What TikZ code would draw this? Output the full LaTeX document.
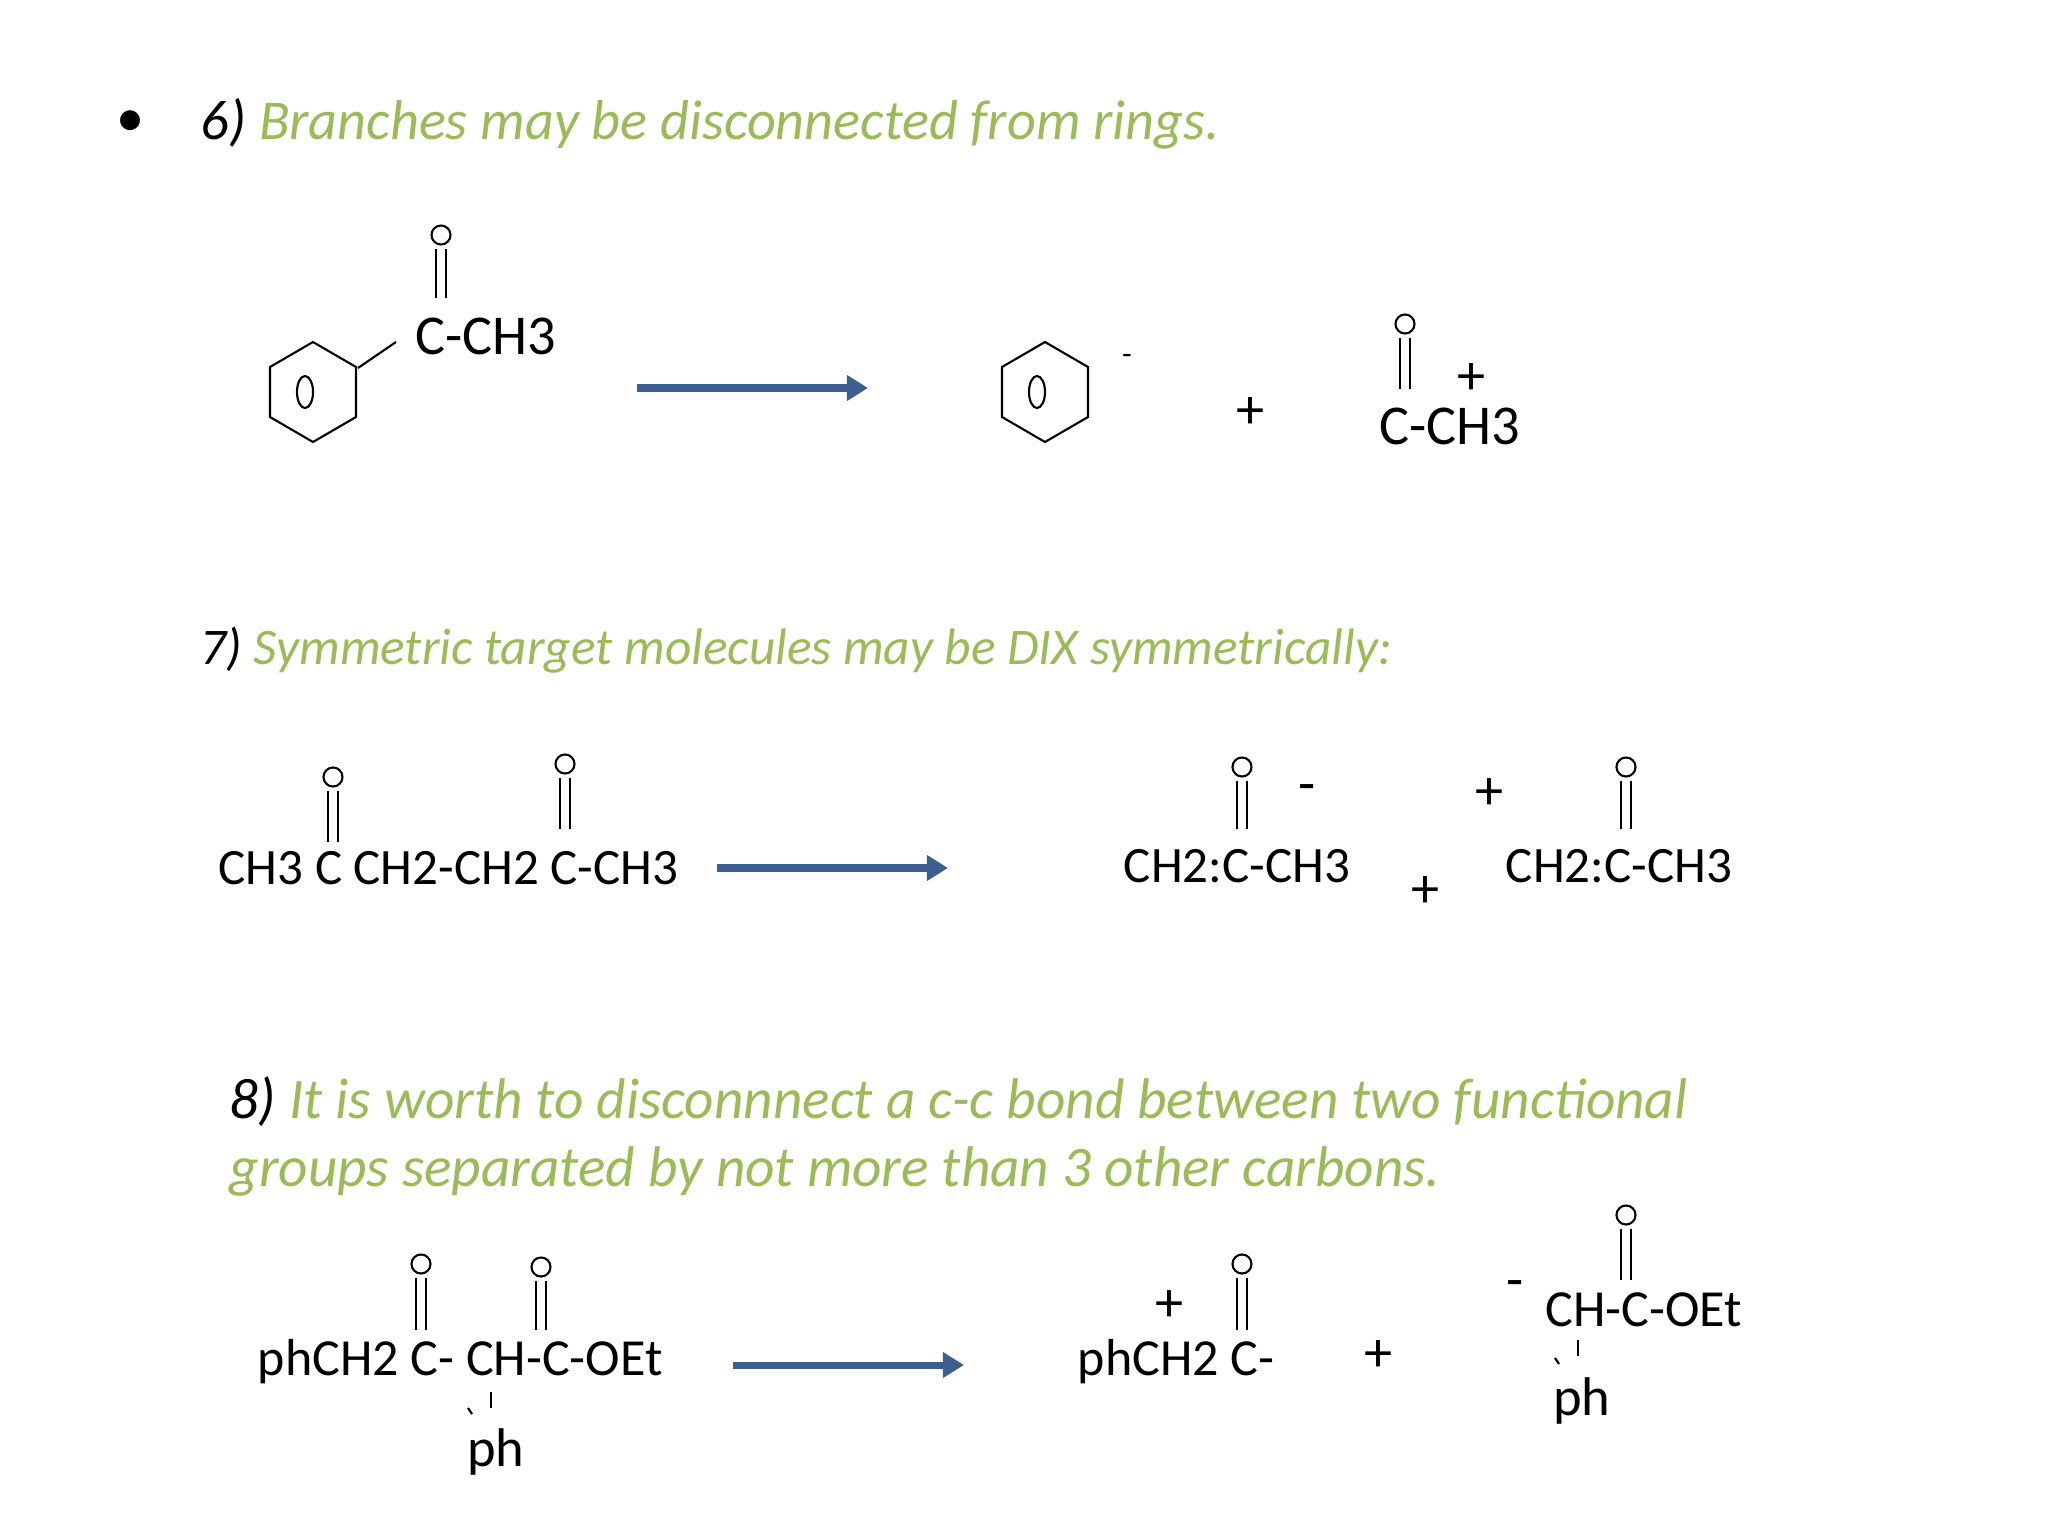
\documentclass[tikz,border=0pt]{standalone}
\usepackage{fontspec}
\setmainfont{Carlito}
\usetikzlibrary{arrows.meta,shapes.geometric}
\definecolor{tgreen}{HTML}{9BBB59}
\definecolor{arr}{HTML}{3C5F8E}
\tikzset{
 chem/.style={inner sep=0pt,font=\fontsize{16}{18}\selectfont},
 chemb/.style={inner sep=0pt,font=\fontsize{14.5}{18}\selectfont},
 ttl/.style={inner sep=0pt,anchor=west,font=\fontsize{16}{19}\selectfont\itshape},
 bond/.style={line width=0.6pt},
 bigarrow/.style={arr,line width=2pt,-{Triangle[length=6pt,width=7pt]}},
}
\newcommand{\oxo}[4]{%
 \node[circle,draw,line width=0.6pt,minimum size=0.19cm,inner sep=0pt] (#4) at (#1,#2) {};
 \draw[bond] (#1-5,#2+14) -- (#1-5,#3);
 \draw[bond] (#1+5,#2+14) -- (#1+5,#3);}
\begin{document}
\begin{tikzpicture}[x=0.01cm,y=-0.01cm]
\useasboundingbox (0,0) rectangle (2048,1536);
\fill[white] (0,0) rectangle (2048,1536);
% title 6
\node[inner sep=0pt,font=\fontsize{16}{19}\selectfont] (b) at (131,124) {•};
\node[ttl] (t6) at (200,124) {6) \textcolor{tgreen}{Branches may be disconnected from rings.}};
% row 1
\draw[bond] (313,342) -- (356,367) -- (356,417) -- (313,442) -- (270,417) -- (270,367) -- cycle;
\node[ellipse,draw,line width=0.6pt,minimum width=0.16cm,minimum height=0.32cm,inner sep=0pt] (r1) at (305,392) {};
\draw[bond] (358,368) -- (396,342);
\node[chem,anchor=west] (c1) at (415,336) {C-CH3};
\oxo{441}{235}{298}{o1}
\draw[bigarrow] (637,388) -- (868,388);
\draw[bond] (1045,342) -- (1088,367) -- (1088,417) -- (1045,442) -- (1002,417) -- (1002,367) -- cycle;
\node[ellipse,draw,line width=0.6pt,minimum width=0.16cm,minimum height=0.32cm,inner sep=0pt] (r2) at (1037,392) {};
\node[inner sep=0pt,font=\fontsize{9}{10}\selectfont] (m1) at (1127,359) {-};
\node[chem] (p1) at (1250,413) {+};
\oxo{1405}{324}{389}{o2}
\node[chem] (p2) at (1471,379) {+};
\node[chem] (c2) at (1450,426) {C-CH3};
% title 7
\node[ttl,font=\fontsize{14.6}{18}\selectfont\itshape] (t7) at (200,650) {7) \textcolor{tgreen}{Symmetric target molecules may be DIX symmetrically:}};
% row 2
\node[chemb,anchor=west] (c3) at (218,868) {CH3 C CH2-CH2 C-CH3};
\oxo{333}{777}{842}{o3}
\oxo{565}{764}{829}{o4}
\draw[bigarrow] (717,868) -- (948,868);
\node[chemb] (c4) at (1237,866) {CH2:C-CH3};
\oxo{1242}{767}{829}{o5}
\node[chem] (m2) at (1307,794) {-};
\node[chem] (p3) at (1489,794) {+};
\node[chem] (p4) at (1425,892) {+};
\node[chemb] (c5) at (1619,866) {CH2:C-CH3};
\oxo{1626}{767}{829}{o6}
% title 8
\node[ttl,font=\fontsize{16.3}{20}\selectfont\itshape] (t8a) at (229,1101) {8) \textcolor{tgreen}{It is worth to disconnnect a c-c bond between two functional}};
\node[ttl,font=\fontsize{16.3}{20}\selectfont\itshape,text=tgreen] (t8b) at (229,1171) {groups separated by not more than 3 other carbons.};
% row 3
\node[chemb,font=\fontsize{14.8}{18}\selectfont,anchor=west] (c6) at (257,1362) {phCH2 C- CH-C-OEt};
\oxo{421}{1264}{1330}{o7}
\oxo{541}{1267}{1330}{o8}
\draw[bond] (491,1392) -- (491,1408);
\draw[bond] (468,1408) -- (472,1414);
\node[chemb,font=\fontsize{15.5}{18}\selectfont] (ph1) at (496,1452) {ph};
\draw[bigarrow] (733,1365) -- (964,1365);
\node[chemb,font=\fontsize{14.8}{18}\selectfont,anchor=west] (c7) at (1077,1362) {phCH2 C-};
\node[chem] (p5) at (1169,1306) {+};
\oxo{1242}{1264}{1330}{o9}
\node[chem] (p6) at (1378,1356) {+};
\node[chem] (m3) at (1515,1290) {-};
\node[chemb,font=\fontsize{14.8}{18}\selectfont,anchor=west] (c8) at (1545,1310) {CH-C-OEt};
\oxo{1626}{1215}{1280}{o10}
\draw[bond] (1578,1340) -- (1578,1356);
\draw[bond] (1555,1358) -- (1559,1364);
\node[chemb,font=\fontsize{15.5}{18}\selectfont] (ph2) at (1582,1401) {ph};
\end{tikzpicture}
\end{document}
